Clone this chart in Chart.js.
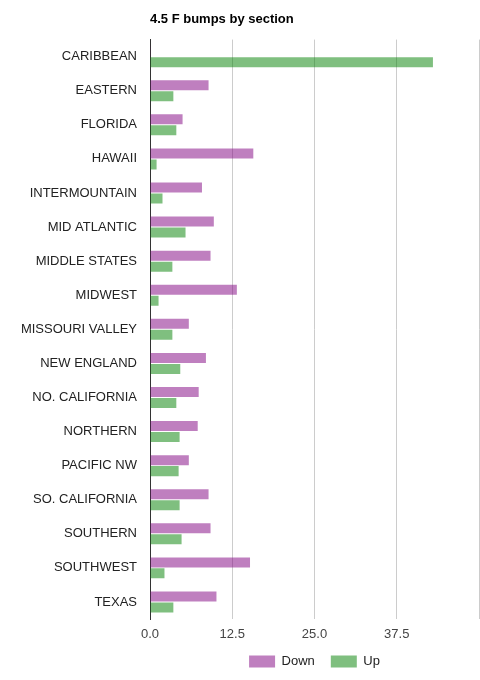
<!DOCTYPE html>
<html>
<head>
<meta charset="utf-8">
<script src="https://cdn.jsdelivr.net/npm/chart.js@4"></script>
<style>
  html, body { margin: 0; padding: 0; background: #fff; }
  #wrap { width: 480px; height: 680px; }
</style>
</head>
<body>
<div id="wrap"><canvas id="myChart" width="480" height="680"></canvas></div>
<script>
const sections = [
    "CARIBBEAN", "EASTERN", "FLORIDA", "HAWAII", "INTERMOUNTAIN",
    "MID ATLANTIC", "MIDDLE STATES", "MIDWEST", "MISSOURI VALLEY",
    "NEW ENGLAND", "NO. CALIFORNIA", "NORTHERN", "PACIFIC NW",
    "SO. CALIFORNIA", "SOUTHERN", "SOUTHWEST", "TEXAS"
];
const down = [0.1, 8.9, 4.95, 15.7, 7.9, 9.7, 9.2, 13.2, 5.9, 8.5, 7.4, 7.25, 5.9, 8.9, 9.2, 15.2, 10.1];
const up   = [43.0, 3.55, 4.0, 1.0, 1.9, 5.4, 3.4, 1.3, 3.4, 4.6, 4.0, 4.5, 4.35, 4.5, 4.8, 2.2, 3.55];
const xTicks = [0, 12.5, 25, 37.5, 50];

const font = "'Liberation Sans', Arial, sans-serif";
const ctx = document.getElementById('myChart');

new Chart(ctx, {
    type: 'bar',
    data: {
        labels: sections,
        datasets: [
            {
                label: 'Down',
                data: down,
                backgroundColor: 'rgba(128,0,128,0.5)',
                borderWidth: 0,
                categoryPercentage: 0.645,
                barPercentage: 0.91
            },
            {
                label: 'Up',
                data: up,
                backgroundColor: 'rgba(0,128,0,0.5)',
                borderWidth: 0,
                categoryPercentage: 0.645,
                barPercentage: 0.91
            }
        ]
    },
    options: {
        indexAxis: 'y',
        responsive: false,
        animation: false,
        layout: { padding: { left: 0, right: 1, top: 0, bottom: 2 } },
        plugins: {
            title: {
                display: true,
                text: '4.5 F bumps by section',
                align: 'start',
                fullSize: false,
                color: '#000',
                font: { family: font, size: 13, weight: 'bold' },
                padding: { top: 12, bottom: 12 }
            },
            legend: {
                position: 'bottom',
                fullSize: false,
                labels: {
                    boxWidth: 26,
                    boxHeight: 12,
                    padding: 16,
                    color: '#222',
                    font: { family: font, size: 13 }
                }
            },
            tooltip: { enabled: false }
        },
        scales: {
            x: {
                min: xTicks[0],
                max: xTicks[xTicks.length - 1],
                afterBuildTicks: s => { s.ticks = xTicks.map(v => ({ value: v })); },
                afterFit: s => { s.paddingRight = 0; s.height = 20; },
                ticks: {
                    padding: 8,
                    color: '#444',
                    font: { family: font, size: 13 },
                    callback: v => v === 50 ? '' : v.toFixed(1)
                },
                grid: { color: '#ccc', drawTicks: false },
                border: { display: false }
            },
            y: {
                afterFit: s => { s.width = 150; },
                ticks: {
                    padding: 13,
                    color: '#222',
                    font: { family: font, size: 13 }
                },
                grid: { display: false, drawTicks: false },
                border: { color: '#333', width: 1 }
            }
        }
    }
});
</script>
</body>
</html>
